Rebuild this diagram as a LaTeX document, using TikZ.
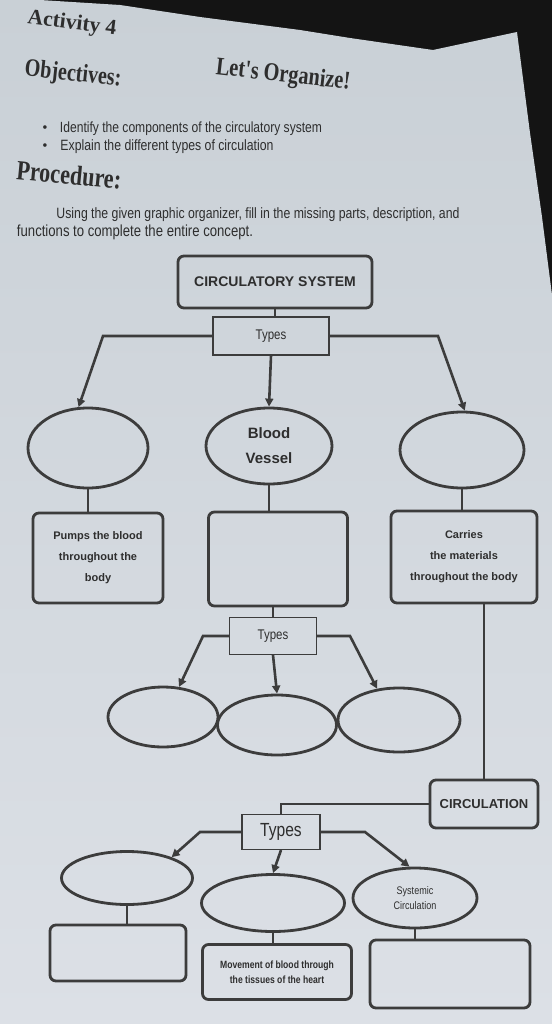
\documentclass[tikz,border=0pt]{standalone}
\usepackage{fontspec}
\setmainfont{Liberation Serif}
\setsansfont{Liberation Sans}
\newfontfamily\narrowsans[FakeStretch=0.82]{Liberation Sans}
\newfontfamily\narrowserif[FakeStretch=0.8]{Liberation Serif}
\usetikzlibrary{shapes.geometric,arrows.meta}
\definecolor{ink}{HTML}{3C3C3C}
\definecolor{txt}{HTML}{2E2E2E}
\definecolor{papertop}{HTML}{C9D0D6}
\definecolor{paperbot}{HTML}{DCE0E6}
\definecolor{backdark}{HTML}{141414}
\newcommand{\fitw}[2]{\resizebox{#1}{!}{#2}}
\tikzset{
  conn/.style={draw=ink, line width=2.6pt},
  arr/.style={conn, -{Triangle[length=8pt,width=8pt]}},
  bigbox/.style={draw=ink, line width=2.8pt, rounded corners=6pt, inner sep=0pt, align=center, text=txt, font=\sffamily\bfseries\fontsize{11}{21}\selectfont},
  typebox/.style={draw=ink, line width=1.1pt, inner sep=0pt, text=txt, font=\narrowsans\fontsize{14}{16}\selectfont},
  oval/.style={draw=ink, line width=2.8pt, ellipse, inner sep=0pt, align=center, text=txt},
  head/.style={text=txt, inner sep=0pt, anchor=center}
}
\begin{document}
\begin{tikzpicture}[x=1pt,y=-1pt]
\useasboundingbox (0,0) rectangle (552,1024);
% photo background
\fill[backdark] (0,0) rectangle (552,1024);
\shade[top color=papertop,bottom color=paperbot] (0,0) -- (40,0) -- (120,5) -- (200,17) -- (300,30) -- (350,38) -- (433,50) -- (517,32) -- (530,133) -- (542,217) -- (552,295) -- (552,1024) -- (0,1024) -- cycle;

% header texts
\node[head, rotate=-7] (act) at (72,24) {\fitw{89pt}{\bfseries Activity 4}};
\node[head, rotate=-6] (obj) at (73,75) {\fitw{97pt}{\narrowserif\bfseries Objectives:}};
\node[head, rotate=-6.5] (org) at (283,76) {\fitw{135pt}{\narrowserif\bfseries Let's Organize!}};
\node[head] (obj1) at (191,129) {\fitw{262pt}{\narrowsans Identify the components of the circulatory system}};
\node[head] (obj2) at (167,147) {\fitw{213pt}{\narrowsans Explain the different types of circulation}};
\coordinate (bx) at (45,0);
\node[text=txt, inner sep=0pt, anchor=base] (bul1) at (obj1.base -| bx) {\fontsize{15}{15}\selectfont\textbullet};
\node[text=txt, inner sep=0pt, anchor=base] (bul2) at (obj2.base -| bx) {\fontsize{15}{15}\selectfont\textbullet};
\node[head, rotate=-5.5] (proc) at (69,175) {\fitw{105pt}{\narrowserif\bfseries Procedure:}};
\node[head] (proc1) at (258,215) {\fitw{403pt}{\narrowsans Using the given graphic organizer, fill in the missing parts, description, and}};
\node[head] (proc2) at (135,232) {\fitw{236pt}{\narrowsans functions to complete the entire concept.}};

% level 1
\node[bigbox, minimum width=194pt, minimum height=52pt, font=\sffamily\bfseries\fontsize{14}{16}\selectfont] (cs) at (275,282) {CIRCULATORY SYSTEM};
\node[typebox, minimum width=116pt, minimum height=38pt] (t1) at (271,336) {Types};
\node[oval, minimum width=120pt, minimum height=80pt] (e1l) at (88,448) {};
\node[oval, minimum width=126pt, minimum height=76pt, font=\sffamily\bfseries\fontsize{15}{25}\selectfont] (e1c) at (269,446) {Blood\\Vessel};
\node[oval, minimum width=124pt, minimum height=76pt] (e1r) at (462,450) {};
\node[bigbox, minimum width=130pt, minimum height=90pt] (b1l) at (98,558) {Pumps the blood\\throughout the\\body};
\node[bigbox, minimum width=139pt, minimum height=94pt] (b1c) at (278,559) {};
\node[bigbox, minimum width=146pt, minimum height=92pt] (b1r) at (464,557) {Carries\\the materials\\throughout the body};

\draw[conn] (cs.south) -- (cs.south |- t1.north);
\coordinate (k1) at (103,336);
\coordinate (k2) at (438,336);
\draw[arr] (t1.west) -- (k1) -- (e1l.103);
\draw[arr] (t1.south) -- (e1c.north);
\draw[arr] (t1.east) -- (k2) -- (e1r.86);
\draw[conn] (e1l.south) -- (e1l.south |- b1l.north);
\draw[conn] (e1c.south) -- (e1c.south |- b1c.north);
\draw[conn] (e1r.south) -- (e1r.south |- b1r.north);

% level 2 (blood vessel types)
\node[typebox, minimum width=87pt, minimum height=37pt] (t2) at (273,636) {Types};
\node[oval, minimum width=110pt, minimum height=60pt] (e2l) at (163,717) {};
\node[oval, minimum width=119pt, minimum height=60pt] (e2c) at (277,725) {};
\node[oval, minimum width=122pt, minimum height=64pt] (e2r) at (399,720) {};
\draw[conn] (t2.north |- b1c.south) -- (t2.north);
\coordinate (k3) at (203,636);
\coordinate (k4) at (350,636);
\draw[arr] (t2.west) -- (k3) -- (e2l.62);
\draw[arr] (t2.south) -- (e2c.north);
\draw[arr] (t2.east) -- (k4) -- (e2r.125);

% circulation
\node[bigbox, minimum width=108pt, minimum height=48pt, font=\sffamily\bfseries\fontsize{13}{15}\selectfont] (circ) at (484,804) {CIRCULATION};
\draw[conn] (circ.north |- b1r.south) -- (circ.north);
\node[typebox, minimum width=78pt, minimum height=35pt, font=\narrowsans\fontsize{19}{21}\selectfont] (t3) at (281,832) {Types};
\draw[conn] (circ.west) -| (t3.north);
\node[oval, minimum width=131pt, minimum height=53pt] (e3l) at (127,878) {};
\node[oval, minimum width=143pt, minimum height=57pt] (e3c) at (273,903) {};
\node[oval, minimum width=124pt, minimum height=60pt, font=\narrowsans\fontsize{11}{15}\selectfont] (e3r) at (415,898) {Systemic\\Circulation};
\coordinate (k5) at (200,832);
\coordinate (k6) at (365,832);
\draw[arr] (t3.west) -- (k5) -- (e3l.25);
\draw[arr] (t3.south) -- (e3c.north);
\draw[arr] (t3.east) -- (k6) -- (e3r.100);
\node[bigbox, minimum width=136pt, minimum height=56pt] (b3l) at (118,953) {};
\node[bigbox, minimum width=149pt, minimum height=55pt, font=\narrowsans\bfseries\fontsize{10.5}{15}\selectfont] (b3c) at (277,972) {Movement of blood through\\the tissues of the heart};
\node[bigbox, minimum width=160pt, minimum height=68pt] (b3r) at (450,974) {};
\draw[conn] (e3l.south) -- (e3l.south |- b3l.north);
\draw[conn] (e3c.south) -- (e3c.south |- b3c.north);
\draw[conn] (e3r.south) -- (e3r.south |- b3r.north);
\end{tikzpicture}
\end{document}
